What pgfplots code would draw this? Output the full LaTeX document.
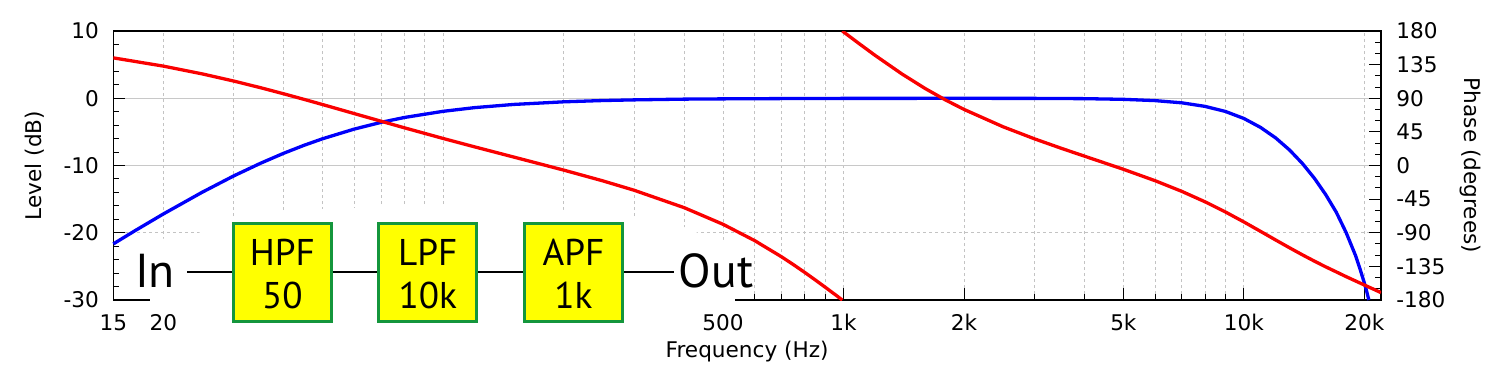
\documentclass[border=0pt]{standalone}
\usepackage{pgfplots}
\pgfplotsset{compat=1.18}
\usepackage{fontspec}
\setmainfont{DejaVu Sans}
\newfontfamily\diag{PT Sans}
\definecolor{boxgreen}{RGB}{20,150,60}
\definecolor{boxyellow}{RGB}{255,255,0}
\definecolor{gridgray}{RGB}{195,195,195}
\definecolor{solidgray}{RGB}{200,200,200}
\definecolor{curvered}{RGB}{250,0,0}
\definecolor{curveblue}{RGB}{0,0,250}

\begin{document}
\begin{tikzpicture}[x=0.5pt,y=0.5pt]
\path[use as bounding box] (0,0) rectangle (1500,376);
\begin{axis}[at={(56.65pt,38pt)}, anchor=south west, scale only axis,
  width=633.85pt, height=134.5pt,
  xmode=log, xmin=15, xmax=22000,
  tick align=inside,
  major tick length=6pt, minor tick length=3pt,
  tick style={black, line width=0.5pt},
  axis line style={black, line width=0.6pt},
  tick label style={font=\fontsize{10.8}{13}\selectfont},
  label style={font=\fontsize{10.8}{13}\selectfont},
  clip=false,
  ymin=-30, ymax=10,
  xtick={15,20,50,100,200,500,1000,2000,5000,10000,20000},
  xticklabels={15,20,,,,500,1k,2k,5k,10k,20k},
  minor xtick={30,40,60,70,80,90,300,400,600,700,800,900,3000,4000,6000,7000,8000,9000},
  xtick pos=lower, ytick pos=lower,
  xmajorgrids, xminorgrids, ymajorgrids,
  major grid style={gridgray, dash pattern=on 1.5pt off 1.5pt, line width=0.5pt},
  minor grid style={gridgray, dash pattern=on 1.5pt off 1.5pt, line width=0.5pt},
  ytick={-30,-20,-10,0,10}, yticklabels={-30,-20,-10,0,10},
  minor ytick={-28,-26,-24,-22,-18,-16,-14,-12,-8,-6,-4,-2,2,4,6,8},
  extra y ticks={-10,0}, extra y tick labels={},
  extra y tick style={grid=major, major grid style={solidgray, solid, line width=0.6pt}},
  xticklabel style={anchor=north, inner sep=0pt, yshift=-7pt},
  yticklabel style={anchor=east, inner sep=0pt, xshift=-7pt},
  xlabel={Frequency (Hz)}, ylabel={Level (dB)},
  xlabel style={at={(axis description cs:0.5,-0.19)}, anchor=center},
  ylabel style={at={(axis description cs:-0.0618,0.5)}, anchor=center},
]
\fill[white] (rel axis cs:0.0290,-0.0223) -- (rel axis cs:0.0290,0.2230)
  -- (rel axis cs:0.0621,0.2379) -- (rel axis cs:0.0952,0.3086)
  -- (rel axis cs:0.1473,0.3346) -- (rel axis cs:0.2601,0.3532)
  -- (rel axis cs:0.3555,0.3346) -- (rel axis cs:0.4107,0.3048)
  -- (rel axis cs:0.4502,0.2714) -- (rel axis cs:0.4612,0.2491)
  -- (rel axis cs:0.4817,0.2230) -- (rel axis cs:0.4904,0.2007)
  -- (rel axis cs:0.4904,-0.0223) -- cycle;
\addplot[curveblue, line width=1.65pt] coordinates {
(15,-21.66) (17,-19.69) (20,-17.21) (25,-13.98) (30,-11.54) (35,-9.66)
(40,-8.17) (45,-6.98) (50,-6.02) (60,-4.58) (70,-3.58) (80,-2.86)
(100,-1.94) (120,-1.39) (150,-0.92) (200,-0.53) (250,-0.34) (300,-0.24)
(400,-0.13) (500,-0.09) (700,-0.05) (1000,-0.02) (2000,-0.01) (3000,-0.02)
(4000,-0.06) (5000,-0.16) (6000,-0.35) (7000,-0.68) (8000,-1.21) (9000,-1.97)
(10000,-3.01) (11000,-4.33) (12000,-5.89) (13000,-7.69) (14000,-9.70)
(15000,-11.90) (16000,-14.31) (17000,-16.91) (18000,-19.96) (19000,-23.37)
(19500,-25.38) (20000,-27.49) (20250,-28.66) (20518,-30.00)
};
\end{axis}
\begin{axis}[at={(56.65pt,38pt)}, anchor=south west, scale only axis,
  width=633.85pt, height=134.5pt,
  xmode=log, xmin=15, xmax=22000,
  tick align=inside,
  major tick length=6pt, minor tick length=3pt,
  tick style={black, line width=0.5pt},
  axis line style={black, line width=0.6pt},
  tick label style={font=\fontsize{10.8}{13}\selectfont},
  label style={font=\fontsize{10.8}{13}\selectfont},
  ymin=-180, ymax=180,
  axis x line=none, axis y line*=right,
  ytick={-180,-135,-90,-45,0,45,90,135,180},
  yticklabels={-180,-135,-90,-45,0,45,90,135,180},
  minor ytick={-165,-150,-120,-105,-75,-60,-30,-15,15,30,60,75,105,120,150,165},
  yticklabel style={anchor=west, inner sep=0pt, xshift=7.5pt},
  ylabel={Phase (degrees)},
  ylabel style={at={(axis description cs:1.0702,0.5)}, anchor=center, rotate=180},
]
\addplot[curvered, line width=1.65pt] coordinates {
(15,144.07) (20,133.02) (25,122.65) (30,113.00) (35,104.11) (40,95.91)
(45,88.42) (50,81.54) (60,69.46) (70,59.24) (80,50.47) (100,36.18)
(120,24.87) (150,11.34) (200,-6.14) (250,-20.43) (300,-33.15) (400,-56.44)
(500,-78.67) (600,-100.56) (700,-122.16) (750,-132.74) (800,-143.09)
(850,-153.16) (900,-162.89) (950,-172.25) (970,-175.89) (993,-180)
};
\addplot[curvered, line width=1.65pt] coordinates {
(993,180) (1000,178.78) (1050,170.23) (1100,162.14) (1200,147.26)
(1400,122.42) (1600,102.97) (1800,87.55) (2000,75.05) (2500,51.96)
(3000,35.66) (3500,23.00) (4000,12.47) (5000,-5.06) (6000,-20.33)
(7000,-34.66) (8000,-48.62) (9000,-62.31) (10000,-75.55) (11000,-88.08)
(12000,-99.64) (13000,-110.12) (14000,-119.55) (15000,-127.99)
(16000,-135.57) (17000,-142.29) (18000,-148.72) (19000,-154.50)
(20000,-159.98) (21000,-165.15) (22000,-170.13)
};
\end{axis}
% signal-chain diagram
\begin{scope}[line width=1.3pt]
\draw (187,104) -- (232,104);
\draw (332,104) -- (378,104);
\draw (477,104) -- (524,104);
\draw (623,104) -- (674,104);
\end{scope}
\begin{scope}[draw=boxgreen, fill=boxyellow, line width=1.5pt]
\filldraw (233,54.5) rectangle (331.5,152.5);
\filldraw (378.8,54.5) rectangle (476.8,152.5);
\filldraw (524.2,54.5) rectangle (622.8,152.5);
\end{scope}
\begin{scope}[font=\diag\fontsize{18.6}{20}\selectfont, inner sep=0pt]
\node[anchor=base] at (282.3,111) {HPF};
\node[anchor=base] at (282.3,68) {50};
\node[anchor=base] at (427.8,111) {LPF};
\node[anchor=base] at (427.8,68) {10k};
\node[anchor=base] at (573.5,111) {APF};
\node[anchor=base] at (573.5,68) {1k};
\end{scope}
\begin{scope}[font=\diag\fontsize{23.8}{26}\selectfont, inner sep=0pt]
\node[anchor=base] at (155,89) {In};
\node[anchor=base] at (716,89) {Out};
\end{scope}
\end{tikzpicture}
\end{document}
